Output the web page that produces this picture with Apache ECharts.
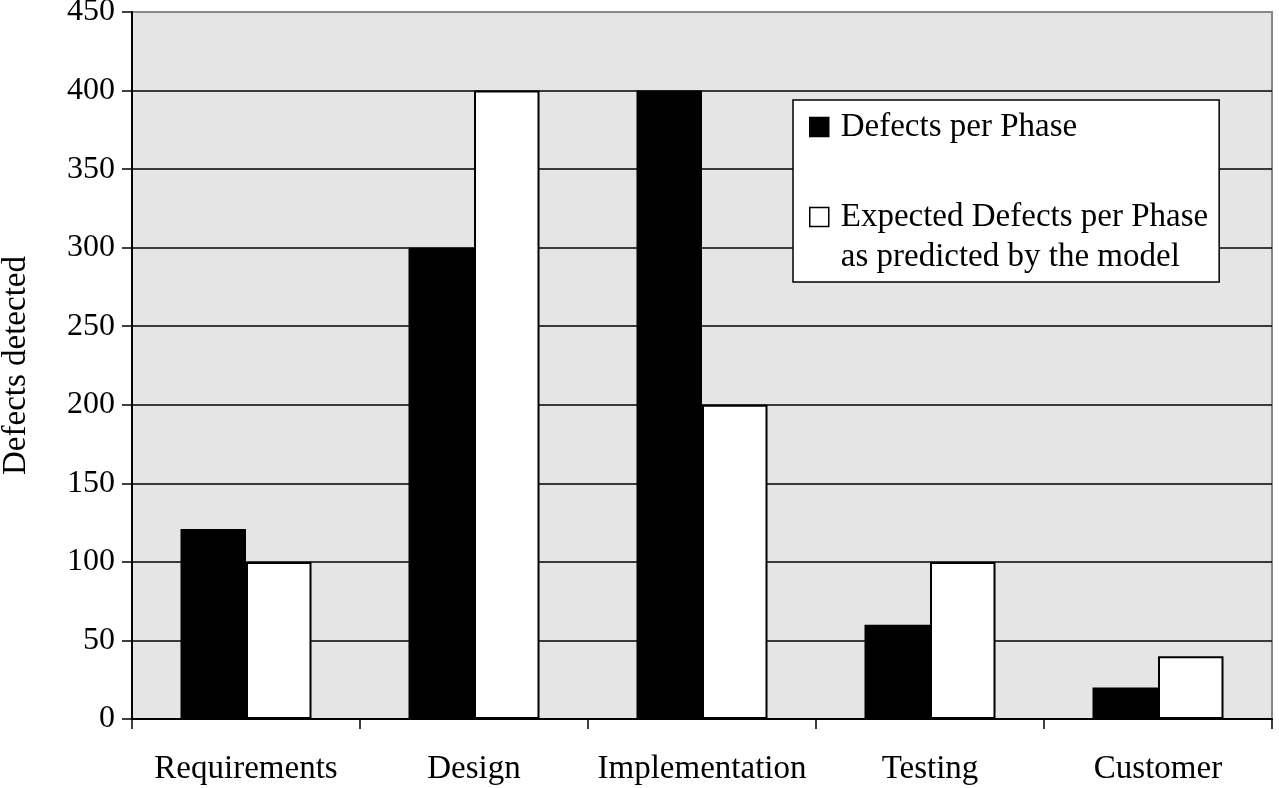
<!DOCTYPE html>
<html>
<head>
<meta charset="utf-8">
<script src="https://cdn.jsdelivr.net/npm/echarts@6/dist/echarts.min.js"></script>
<style>
html,body{margin:0;padding:0;background:#fff;}
#chart{width:1279px;height:788px;}
</style>
</head>
<body>
<div id="chart"></div>
<script>
const categories = ['Requirements', 'Design', 'Implementation', 'Testing', 'Customer'];
const defectsPerPhase = [121, 300, 400, 60, 20];
const expectedDefects = [100, 400, 200, 100, 40];
const seriesNames = ['Defects per Phase', 'Expected Defects per Phase\nas predicted by the model'];
const yAxisName = 'Defects detected';

const FONT = "'Liberation Serif', 'Times New Roman', serif";
const chart = echarts.init(document.getElementById('chart'));

const splitColors = [];
for (let i = 0; i < 10; i++) splitColors.push(i === 9 ? '#888888' : '#000000');

chart.setOption({
  animation: false,
  textStyle: { fontFamily: FONT, color: '#000' },
  grid: {
    left: 132, right: 7, top: 12, bottom: 69,
    outerBoundsMode: 'none',
    containLabel: false,
    show: true, backgroundColor: '#e5e5e5', borderColor: '#888888', borderWidth: 2
  },
  legend: {
    orient: 'vertical',
    left: 793, top: 100,
    backgroundColor: '#ffffff',
    borderColor: '#000000', borderWidth: 1.5,
    padding: [7, 11, 5, 16],
    itemGap: 10,
    itemWidth: 19, itemHeight: 19,
    icon: 'rect',
    selectedMode: false,
    formatter: function (name) {
      return name === seriesNames[1] ? ' \n' + name : name;
    },
    textStyle: { fontFamily: FONT, fontSize: 33, color: '#000', lineHeight: 40, padding: [2, 0, -2, 7] },
    data: [
      { name: seriesNames[0], itemStyle: { color: '#000', borderColor: '#000', borderWidth: 1.5 } },
      { name: seriesNames[1], itemStyle: { color: '#fff', borderColor: '#000', borderWidth: 1.5 } }
    ]
  },
  xAxis: {
    type: 'category',
    data: categories,
    axisLine: { lineStyle: { color: '#000', width: 2 } },
    axisTick: { show: true, interval: 0, length: 10, lineStyle: { color: '#000', width: 1.5 } },
    axisLabel: { interval: 0, fontFamily: FONT, fontSize: 33, color: '#000', margin: 34 },
    splitLine: { show: false }
  },
  yAxis: {
    type: 'value',
    min: 0, max: 450, interval: 50,
    name: yAxisName,
    nameLocation: 'middle',
    nameGap: 99,
    nameTextStyle: { fontFamily: FONT, fontSize: 33, color: '#000' },
    axisLine: { show: true, lineStyle: { color: '#000', width: 2 } },
    axisTick: { show: true, length: 10, lineStyle: { color: '#000', width: 1.5 } },
    axisLabel: { fontFamily: FONT, fontSize: 32, color: '#000', margin: 17 },
    splitLine: { show: true, lineStyle: { color: splitColors, width: 1.5 } }
  },
  series: [
    {
      name: seriesNames[0], type: 'bar', data: defectsPerPhase,
      barWidth: 65.5, barGap: '0%',
      itemStyle: { color: '#000', borderColor: '#000', borderWidth: 2 }
    },
    {
      name: seriesNames[1], type: 'bar', data: expectedDefects,
      barWidth: 65.5, barGap: '0%',
      itemStyle: { color: '#fff', borderColor: '#000', borderWidth: 2 }
    }
  ]
});
</script>
</body>
</html>
